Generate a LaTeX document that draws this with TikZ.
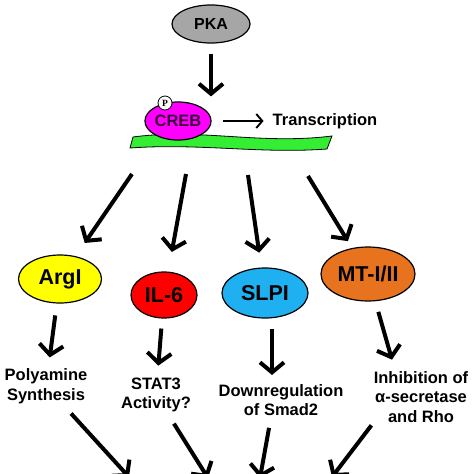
\documentclass[tikz,border=0pt]{standalone}
\usepackage{fontspec}
\setmainfont{Liberation Sans}
\newfontfamily\phosfont{Liberation Serif}
\usetikzlibrary{shapes.geometric,arrows.meta}

\definecolor{pkagray}{HTML}{A6A6A6}
\definecolor{crebpink}{HTML}{FF00FF}
\definecolor{crebtext}{HTML}{3A003A}
\definecolor{stripgreen}{HTML}{33EE33}
\definecolor{argiyellow}{HTML}{FFFF00}
\definecolor{ilred}{HTML}{FF0000}
\definecolor{slpiblue}{HTML}{1EB0F0}
\definecolor{mtorange}{HTML}{E8731E}

\begin{document}
\begin{tikzpicture}[x=1pt,y=-1pt]
        \tikzstyle{blob}=[ellipse,draw=black,line width=1.2pt,inner sep=0pt]
        \tikzstyle{big}=[line width=4pt,-{Straight Barb[length=10pt,width=24pt]}]
        \tikzstyle{lbl}=[align=center,inner sep=1pt,font=\fontsize{16.5}{19.5}\selectfont\bfseries]

        \useasboundingbox (0,0) rectangle (474,474);
        \clip (0,0) rectangle (474,474);

        % DNA strip under CREB
        \draw[fill=stripgreen, line width=0.8pt] (133,137) .. controls (200,128) and (260,145) .. (332,136) -- (327,149) .. controls (260,154) and (200,143) .. (130,148) -- cycle;

        \node (pka)[blob,fill=pkagray,minimum width=78pt,minimum height=38pt,font=\fontsize{16}{16}\selectfont\bfseries] at (211,24) {PKA};
        \node (creb)[blob,fill=crebpink,minimum width=62pt,minimum height=38pt,text=crebtext,font=\fontsize{16.5}{17}\selectfont\bfseries] at (178,121) {CREB};
        \node (phos)[circle,draw=black,fill=white,line width=0.8pt,inner sep=0pt,minimum size=14pt,font=\phosfont\fontsize{9.5}{9.5}\selectfont\bfseries] at (165,103) {P};
        \node (trans)[inner sep=1pt,font=\fontsize{16.5}{17}\selectfont\bfseries] at (325,121) {Transcription};

        \node (argi)[blob,fill=argiyellow,minimum width=83pt,minimum height=48pt,font=\fontsize{21.5}{22}\selectfont\bfseries] at (60,279) {ArgI};
        \node (il6)[blob,fill=ilred,minimum width=66pt,minimum height=46pt,font=\fontsize{21.5}{22}\selectfont\bfseries] at (164,295) {IL-6};
        \node (slpi)[blob,fill=slpiblue,minimum width=86pt,minimum height=50pt,font=\fontsize{21.5}{22}\selectfont\bfseries] at (265,293) {SLPI};
        \node (mt)[blob,fill=mtorange,minimum width=94pt,minimum height=54pt,font=\fontsize{21.5}{22}\selectfont\bfseries] at (368,274) {MT-I/II};

        \node (poly)[lbl] at (46,386) {Polyamine\\Synthesis};
        \node (stat)[lbl] at (156,395) {STAT3\\Activity?};
        \node (smad)[lbl] at (281,400) {Downregulation\\of Smad2};
        \node (inhib)[lbl] at (421,397) {Inhibition of\\α-secretase\\and Rho};

        \coordinate (s1) at (132,174);
        \coordinate (s2) at (186,174);
        \coordinate (s3) at (248,175);
        \coordinate (s4) at (308,176);
        \coordinate (b1) at (129,477);
        \coordinate (b2) at (208,478);
        \coordinate (b3) at (260,478);
        \coordinate (b4) at (332,477);

        \draw[big, shorten <=10pt, shorten >=5pt] (pka.south) -- (pka.south |- creb.north);
        \draw[line width=1.9pt, -{Straight Barb[length=6pt,width=14pt]}, shorten <=11pt, shorten >=8pt] (creb) -- (trans);

        \draw[big, shorten >=16pt] (s1) -- (argi);
        \draw[big, shorten >=20pt] (s2) -- (il6);
        \draw[big, shorten >=15pt] (s3) -- (slpi);
        \draw[big, shorten >=8pt] (s4) -- (mt);

        \draw[big, shorten <=12pt, shorten >=10pt] (argi) -- (poly);
        \draw[big, shorten <=10pt, shorten >=11pt] (il6) -- (stat);
        \draw[big, shorten <=10pt, shorten >=8pt] ([xshift=7pt]slpi.south) -- ([xshift=7pt]slpi.south |- smad.north);
        \draw[big, shorten <=11pt, shorten >=11pt] (mt.-75) -- ([xshift=-26pt]inhib.north);

        \draw[big, shorten <=12pt] (poly) -- (b1);
        \draw[big, shorten <=12pt] (stat) -- (b2);
        \draw[big, shorten <=11pt] ([xshift=-10pt]smad.south) -- (b3);
        \draw[big, shorten <=2pt] (inhib.south west) -- (b4);
    \end{tikzpicture}
\end{document}
